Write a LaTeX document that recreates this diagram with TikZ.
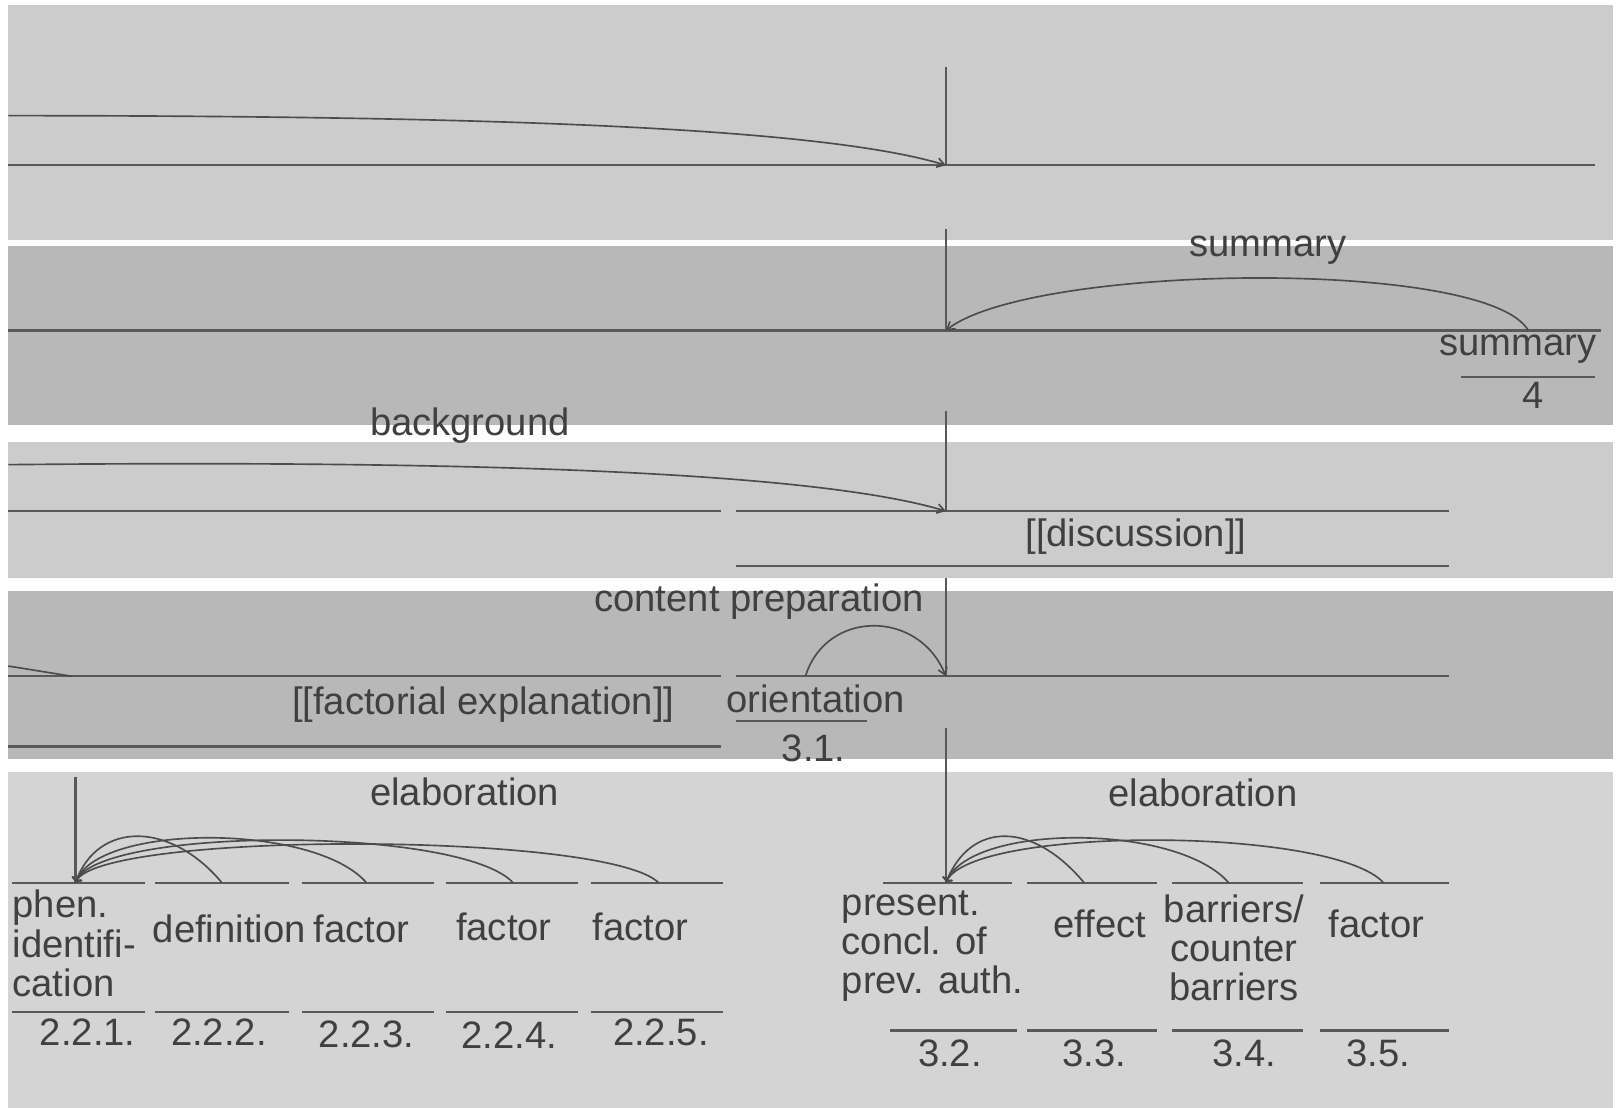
\documentclass[tikz,border=0pt]{standalone}
\usepackage{fontspec}
\setmainfont{Liberation Sans}
\usetikzlibrary{arrows.meta}
\begin{document}
\begin{tikzpicture}[x=1pt,y=-1pt,
  ln/.style={draw=black!65,line width=2.2pt},
  arc/.style={draw=black!70,line width=1.6pt,-{Straight Barb[length=7pt,width=9pt]}},
  txt/.style={font=\fontsize{37}{38}\selectfont,text=black!75,inner sep=0pt},
  ml/.style={txt,align=left,anchor=north west,font=\fontsize{37}{38}\selectfont}]
\useasboundingbox (0,0) rectangle (1565,1073);
\fill[white] (0,0) rectangle (1565,1073);
\fill[black!20] (8,5) rectangle (1562,232);
\fill[black!28] (8,238) rectangle (1562,412);
\fill[black!20] (8,428) rectangle (1562,560);
\fill[black!28] (8,572) rectangle (1562,735);
\fill[black!17] (8,748) rectangle (1562,1073);
% band 1
\coordinate (v1t) at (916,65); \coordinate (v1b) at (916,160);
\draw[ln] (8,160) -- (1545,160);
\draw[ln] (v1t) -- (v1b);
\coordinate (a1) at (8,112);
\draw[arc] (a1) .. controls (500,112) and (800,125) .. (v1b);
% band 2
\coordinate (v2t) at (916,222); \coordinate (v2b) at (916,320);
\draw[ln] (8,320) -- (1550,320);
\draw[ln] (v2t) -- (v2b);
\coordinate (s2) at (1480,320);
\draw[arc] (s2) .. controls (1440,250) and (1000,255) .. (v2b);
\node[txt] (lsum) at (1228,242) {summary};
\node[txt] (sum) at (1470,338) {summary};
\draw[ln] (1415,365) -- (1545,365);
\node[txt] (n4) at (1485,383) {4};
% band 3
\coordinate (v3t) at (916,398); \coordinate (v3b) at (916,495);
\draw[ln] (8,495) -- (698,495);
\draw[ln] (713,495) -- (1403,495);
\draw[ln] (v3t) -- (v3b);
\coordinate (a3) at (8,450);
\draw[arc] (a3) .. controls (500,445) and (800,460) .. (v3b);
\node[txt] (lbg) at (455,412) {background};
\node[txt] (disc) at (1100,520) {[[discussion]]};
\draw[ln] (713,548) -- (1403,548);
% band 4
\coordinate (v4t) at (916,560); \coordinate (v4b) at (916,655);
\draw[ln] (8,655) -- (698,655);
\draw[ln] (713,655) -- (1403,655);
\draw[ln] (v4t) -- (v4b);
\node[txt] (lcp) at (735,583) {content preparation};
\coordinate (o4) at (780,655);
\draw[arc] (o4) .. controls (800,590) and (890,590) .. (v4b);
\draw[draw=black!70,line width=1.6pt] (8,645) -- (70,655);
\node[txt] (fe) at (468,682) {[[factorial explanation]]};
\node[txt] (ori) at (790,677) {orientation};
\draw[ln] (713,698) -- (840,698);
\draw[ln] (8,723) -- (698,723);
\node[txt] (n31) at (788,725) {3.1.};
% band 5 left
\coordinate (v5t) at (73,752); \coordinate (v5b) at (73,855);
\draw[ln] (v5t) -- (v5b);
\node[txt] (lel1) at (450,767) {elaboration};
\foreach \a/\b in {12/140,150/280,292/420,432/560,572/700}{
  \draw[ln] (\a,855) -- (\b,855);
  \draw[ln] (\a,980) -- (\b,980);}
\foreach \t/\h in {215/795,355/797,497/800,638/805}{
  \coordinate (t\t) at (\t,855);
  \draw[arc,<-] (v5b) .. controls (95,\h) and (\t-50,\h) .. (t\t);}
\node[ml] (phen) at (12,862) {phen.\\identifi-\\cation};
\node[txt] (def) at (222,900) {definition};
\node[txt] (f1) at (350,900) {factor};
\node[txt] (f2) at (488,898) {factor};
\node[txt] (f3) at (620,898) {factor};
\node[txt] (n221) at (85,1000) {2.2.1.};
\node[txt] (n222) at (212,1000) {2.2.2.};
\node[txt] (n223) at (355,1002) {2.2.3.};
\node[txt] (n224) at (493,1002) {2.2.4.};
\node[txt] (n225) at (640,1000) {2.2.5.};
% band 5 right
\coordinate (v6t) at (916,705); \coordinate (v6b) at (916,855);
\draw[ln] (v6t) -- (v6b);
\node[txt] (lel2) at (1165,768) {elaboration};
\foreach \a/\b in {855/980,995/1120,1135/1262,1278/1403}{
  \draw[ln] (\a,855) -- (\b,855);}
\foreach \a/\b in {862/985,995/1120,1135/1262,1278/1403}{
  \draw[ln] (\a,998) -- (\b,998);}
\foreach \t/\h in {1050/795,1190/797,1340/800}{
  \coordinate (r\t) at (\t,855);
  \draw[arc,<-] (v6b) .. controls (940,\h) and (\t-50,\h) .. (r\t);}
\node[ml] (pres) at (815,862) {present.\\concl. of\\prev. auth.};
\node[txt] (eff) at (1065,895) {effect};
\node[txt,align=center] (bar) at (1195,918) {barriers/\\counter\\barriers};
\node[txt] (f4) at (1333,895) {factor};
\node[txt] (n32) at (920,1020) {3.2.};
\node[txt] (n33) at (1060,1020) {3.3.};
\node[txt] (n34) at (1205,1020) {3.4.};
\node[txt] (n35) at (1335,1020) {3.5.};
\end{tikzpicture}
\end{document}
